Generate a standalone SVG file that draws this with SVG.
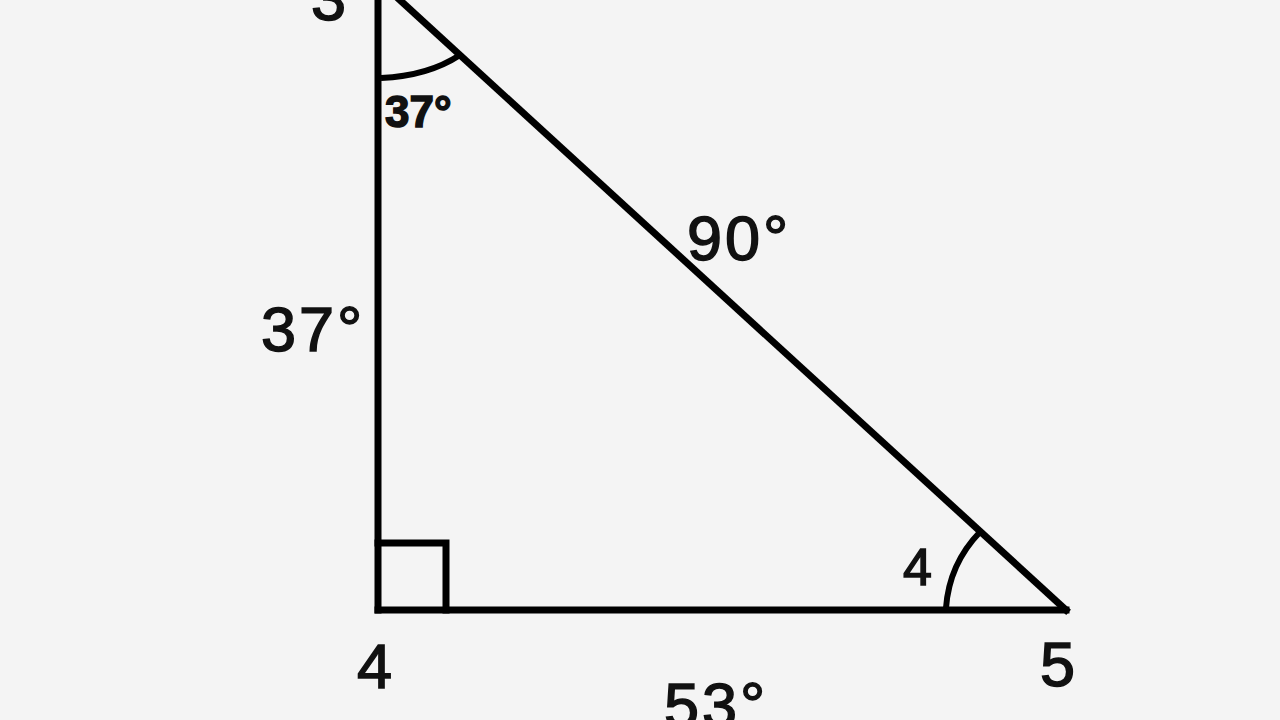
<svg xmlns="http://www.w3.org/2000/svg" width="1280" height="720" viewBox="0 0 1280 720">
  <style>
    .ln { stroke: #000; stroke-width: 7; fill: none; stroke-linecap: square; stroke-linejoin: miter; }
    .arc { stroke: #000; stroke-width: 6; fill: none; }
    .lbl { font-family: "Liberation Sans", "DejaVu Sans", sans-serif; fill: #111; stroke: #111; stroke-width: 1.5; }
    .big { font-size: 63px; letter-spacing: 3px; }
  </style>
  <rect width="1280" height="720" fill="#f4f4f4"/>
  <g id="triangle">
    <line class="ln" x1="378" y1="-20" x2="378" y2="610"/>
    <line class="ln" x1="378" y1="610" x2="1066" y2="610"/>
    <line class="ln" x1="378" y1="-20" x2="1066" y2="610"/>
    <polyline class="ln" points="378,543 446,543 446,610"/>
  </g>
  <g id="angle-marks">
    <path class="arc" d="M 381 78 Q 428 76 460 55"/>
    <path class="arc" d="M 946 608 A 122 122 0 0 1 980 532"/>
  </g>
  <g id="labels">
    <text class="lbl big" x="311" y="20">3</text>
    <text class="lbl" x="385" y="127" font-size="44" font-weight="bold" stroke-width="0">37°</text>
    <text class="lbl big" x="687" y="260">90°</text>
    <text class="lbl big" x="261" y="351">37°</text>
    <text class="lbl big" x="357" y="688">4</text>
    <text class="lbl" x="903" y="585" font-size="52">4</text>
    <text class="lbl big" x="1040" y="686">5</text>
    <text class="lbl big" x="664" y="727">53°</text>
  </g>
</svg>
